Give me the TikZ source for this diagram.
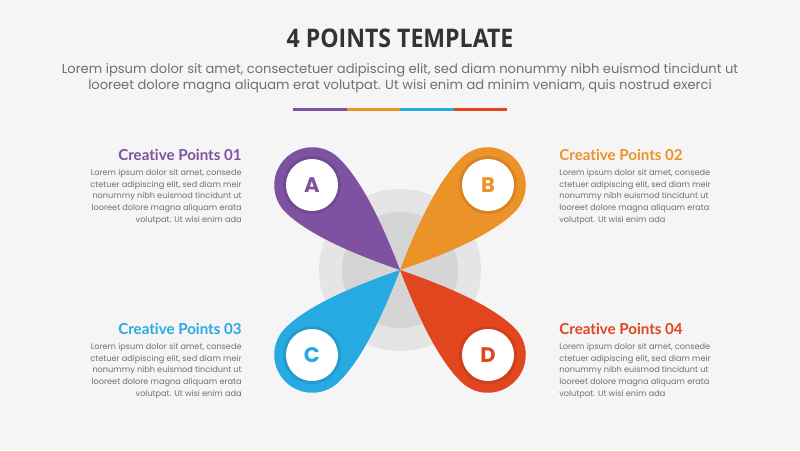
\documentclass[tikz,border=0pt]{standalone}
\usepackage{fontspec}
\setmainfont{Poppins}
\newfontfamily\headfont[Ligatures=NoCommon]{Lato}
\newfontfamily\titlefont[FakeStretch=0.9]{Open Sans}
\definecolor{ptpurple}{HTML}{7E52A0}
\definecolor{ptorange}{HTML}{EB9229}
\definecolor{ptblue}{HTML}{27AAE1}
\definecolor{ptred}{HTML}{E2461E}
\definecolor{bggray}{HTML}{F5F5F5}
\definecolor{titlegray}{HTML}{333333}
\definecolor{bodygray}{HTML}{707070}
\begin{document}
\begin{tikzpicture}[x=0.02cm,y=0.02cm]
        \tikzset{petal/.pic = {\fill (0,0) .. controls (45,21) and (90,38) .. (122,38) arc[start angle=90,end angle=-90,radius=38] .. controls (90,-38) and (45,-21) .. cycle;}}
        \tikzset{letter/.style = {shape=circle,fill=white,minimum size=1.04cm,inner sep=0pt,font=\fontsize{12}{12}\selectfont\bfseries}}
        \tikzset{heading/.style = {font=\headfont\fontsize{8.6}{8.6}\selectfont\bfseries,inner sep=0pt}}
        \tikzset{body/.style = {font=\fontsize{4.65}{6.65}\selectfont,text=bodygray,inner sep=0pt}}
        \useasboundingbox (0,0) rectangle (800,450);
        \fill[bggray] (0,0) rectangle (800,450);
        % title and subtitle
        \node[font=\titlefont\fontsize{14.6}{14.6}\selectfont\bfseries,text=titlegray] (title) at (400,412) {4 POINTS TEMPLATE};
        \node[font=\fontsize{7.45}{9.1}\selectfont,text=bodygray,align=center] (sub) at (400,372) {Lorem ipsum dolor sit amet, consectetuer adipiscing elit, sed diam nonummy nibh euismod tincidunt ut\\looreet dolore magna aliquam erat volutpat. Ut wisi enim ad minim veniam, quis nostrud exerci};
        \fill[ptpurple] (293,338.5) rectangle (346.5,341.5);
        \fill[ptorange] (346.5,338.5) rectangle (400,341.5);
        \fill[ptblue] (400,338.5) rectangle (453.5,341.5);
        \fill[ptred] (453.5,338.5) rectangle (507,341.5);
        % gray circles in the middle
        \coordinate (o) at (400,180);
        \fill[gray!20] (o) circle[radius=81];
        \fill[gray!33] (o) circle[radius=58];
        % petals
        \pic[rotate=136,fill=ptpurple] at (o) {petal};
        \pic[rotate=44,fill=ptorange] at (o) {petal};
        \pic[rotate=224,fill=ptblue] at (o) {petal};
        \pic[rotate=-44,fill=ptred] at (o) {petal};
        \fill[ptpurple!75!black,opacity=0.35] (312,265) circle[radius=29];
        \fill[ptorange!75!black,opacity=0.35] (488,265) circle[radius=29];
        \fill[ptblue!75!black,opacity=0.35] (312,95) circle[radius=29];
        \fill[ptred!75!black,opacity=0.35] (488,95) circle[radius=29];
        \node[letter,text=ptpurple] (a) at (312,265) {A};
        \node[letter,text=ptorange] (b) at (488,265) {B};
        \node[letter,text=ptblue] (c) at (312,95) {C};
        \node[letter,text=ptred] (d) at (488,95) {D};
        % texts on the left
        \node[heading,text=ptpurple,anchor=base east] (h1) at (242,290) {Creative Points 01};
        \node[body,align=right,anchor=north east] (t1) at (242,281) {Lorem ipsum dolor sit amet, consede\\ctetuer adipiscing elit, sed diam meir\\nonummy nibh euismod tincidunt ut\\looreet dolore magna aliquam erata\\volutpat. Ut wisi enim ada};
        \node[heading,text=ptblue,anchor=base east] (h3) at (242,116) {Creative Points 03};
        \node[body,align=right,anchor=north east] (t3) at (242,107) {Lorem ipsum dolor sit amet, consede\\ctetuer adipiscing elit, sed diam meir\\nonummy nibh euismod tincidunt ut\\looreet dolore magna aliquam erata\\volutpat. Ut wisi enim ada};
        % texts on the right
        \node[heading,text=ptorange,anchor=base west] (h2) at (559,290) {Creative Points 02};
        \node[body,align=left,anchor=north west] (t2) at (559,281) {Lorem ipsum dolor sit amet, consede\\ctetuer adipiscing elit, sed diam meir\\nonummy nibh euismod tincidunt ut\\looreet dolore magna aliquam erata\\volutpat. Ut wisi enim ada};
        \node[heading,text=ptred,anchor=base west] (h4) at (559,116) {Creative Points 04};
        \node[body,align=left,anchor=north west] (t4) at (559,107) {Lorem ipsum dolor sit amet, consede\\ctetuer adipiscing elit, sed diam meir\\nonummy nibh euismod tincidunt ut\\looreet dolore magna aliquam erata\\volutpat. Ut wisi enim ada};
\end{tikzpicture}
\end{document}
